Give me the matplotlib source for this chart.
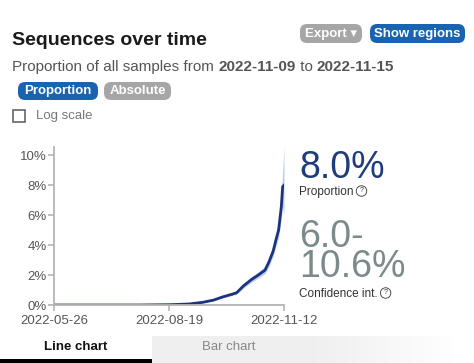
import matplotlib.pyplot as plt
import matplotlib.dates as mdates
from matplotlib.patches import FancyBboxPatch, Rectangle
import pandas as pd

plt.rcParams["font.family"] = ["Liberation Sans", "DejaVu Sans"]

# data (percent)
dates = ["2022-05-26", "2022-06-16", "2022-07-07", "2022-07-28", "2022-08-19",
         "2022-08-26", "2022-09-03", "2022-09-13", "2022-09-21", "2022-09-28",
         "2022-10-05", "2022-10-08", "2022-10-13", "2022-10-19", "2022-10-24",
         "2022-10-29", "2022-11-01", "2022-11-04", "2022-11-06", "2022-11-08",
         "2022-11-10", "2022-11-11", "2022-11-12"]
proportion = [0.0, 0.0, 0.0, 0.0, 0.02, 0.04, 0.07, 0.18, 0.33, 0.55, 0.73, 0.82,
              1.27, 1.7, 2.0, 2.33, 2.9, 3.6, 4.33, 5.0, 6.55, 7.9, 8.0]
ci_low = [0.0, 0.0, 0.0, 0.0, 0.01, 0.03, 0.05, 0.15, 0.28, 0.48, 0.65, 0.72,
          1.12, 1.52, 1.8, 2.1, 2.6, 3.25, 3.9, 4.5, 5.8, 6.6, 6.0]
ci_high = [0.0, 0.0, 0.0, 0.0, 0.03, 0.05, 0.09, 0.21, 0.38, 0.62, 0.82, 0.93,
           1.43, 1.9, 2.22, 2.58, 3.22, 3.98, 4.8, 5.55, 7.3, 9.0, 10.6]
xticks = ["2022-05-26", "2022-08-19", "2022-11-12"]
yticks = [0, 2, 4, 6, 8, 10]

W, H = 474, 363
fig = plt.figure(figsize=(W / 100, H / 100), dpi=100)


def fx(px):
    return px / W


def fy(py):
    return 1 - py / H


def button(x0, y0, x1, y1, color, label):
    fig.patches.append(FancyBboxPatch((fx(x0), fy(y1)), fx(x1 - x0), (y1 - y0) / H,
                                      boxstyle="round,pad=0,rounding_size=0.015",
                                      transform=fig.transFigure, facecolor=color,
                                      edgecolor="none", mutation_aspect=W / H))
    fig.text(fx((x0 + x1) / 2), fy((y0 + y1) / 2), label, ha="center", va="center",
             color="white", fontsize=9.5, fontweight="bold")


# header
fig.text(fx(12), fy(45), "Sequences over time", fontsize=14, fontweight="bold",
         color="#1a1a1a", va="baseline")
button(300, 24, 362, 43, "#a6a6a6", "Export \u25be")
button(370, 24, 465, 43, "#1a63b0", "Show regions")

renderer = fig.canvas.get_renderer()
parts = [("Proportion of all samples from ", "normal"), ("2022-11-09", "bold"),
         (" to ", "normal"), ("2022-11-15", "bold")]
xpos = 12
for txt, wt in parts:
    t = fig.text(fx(xpos), fy(71), txt, fontsize=11, fontweight=wt,
                 color="#555555", va="baseline")
    xpos += t.get_window_extent(renderer).width

button(18, 82, 98, 100, "#1a63b0", "Proportion")
button(104, 82, 171, 100, "#a6a6a6", "Absolute")
fig.patches.append(Rectangle((fx(13), fy(122)), fx(12), 12 / H, transform=fig.transFigure,
                             facecolor="white", edgecolor="#666666", lw=1.2))
fig.text(fx(36), fy(116), "Log scale", fontsize=9.5, color="#777777", va="center")

# chart
ax = fig.add_axes([fx(54), fy(305), fx(284 - 54), 158 / H])
d = pd.to_datetime(dates)
ax.fill_between(d, ci_low, ci_high, color="#6f8fd9", alpha=0.45, lw=0)
ax.plot(d, proportion, color="#1b3480", lw=2)
ax.set_xlim(pd.Timestamp(xticks[0]), pd.Timestamp(xticks[-1]))
ax.set_ylim(0, 10.55)
ax.set_xticks(pd.to_datetime(xticks))
ax.xaxis.set_major_formatter(mdates.DateFormatter("%Y-%m-%d"))
ax.set_yticks(yticks)
ax.set_yticklabels([f"{v}%" for v in yticks])
for s in ["top", "right"]:
    ax.spines[s].set_visible(False)
for s in ["left", "bottom"]:
    ax.spines[s].set_color("#b5b5b5")
    ax.spines[s].set_linewidth(1.3)
ax.tick_params(colors="#b5b5b5", labelcolor="#555555", labelsize=9.5, length=4, width=1.2)
ax.tick_params(axis="x", pad=3)
ax.tick_params(axis="y", pad=1)
ax.patch.set_alpha(0)

# right-hand summary
fig.text(fx(299), fy(178), "8.0%", fontsize=27, color="#1f3d7a", va="baseline")
fig.text(fx(299), fy(277), "6.0-\n10.6%", fontsize=27, color="#7d8a8c", va="baseline",
         linespacing=0.8)
for label, yb in [("Proportion", 195), ("Confidence int.", 297)]:
    t = fig.text(fx(299), fy(yb), label, fontsize=8.5, color="#333333", va="baseline")
    xe = t.get_window_extent(renderer).x1
    fig.text((xe + 8) / W, fy(yb - 4), "?", fontsize=5, color="#333333", ha="center",
             va="center", bbox=dict(boxstyle="circle,pad=0.25", fc="none", ec="#333333", lw=0.6))

# tabs
fig.patches.append(Rectangle((fx(152), fy(363)), fx(155), 27 / H, transform=fig.transFigure,
                             facecolor="#efefef", edgecolor="none"))
for i in range(30):
    fig.patches.append(Rectangle((fx(307 + i * 5), fy(363)), fx(5), 27 / H,
                                 transform=fig.transFigure, edgecolor="none",
                                 facecolor="#efefef", alpha=1 - i / 30))
fig.patches.append(Rectangle((0, 0), fx(152), 4 / H, transform=fig.transFigure,
                             facecolor="black", edgecolor="none"))
fig.text(fx(76), fy(347), "Line chart", fontsize=9.5, fontweight="bold", color="#111111",
         ha="center", va="center")
fig.text(fx(229), fy(347), "Bar chart", fontsize=9.5, color="#888888",
         ha="center", va="center")

fig.savefig("out.png", dpi=100)
